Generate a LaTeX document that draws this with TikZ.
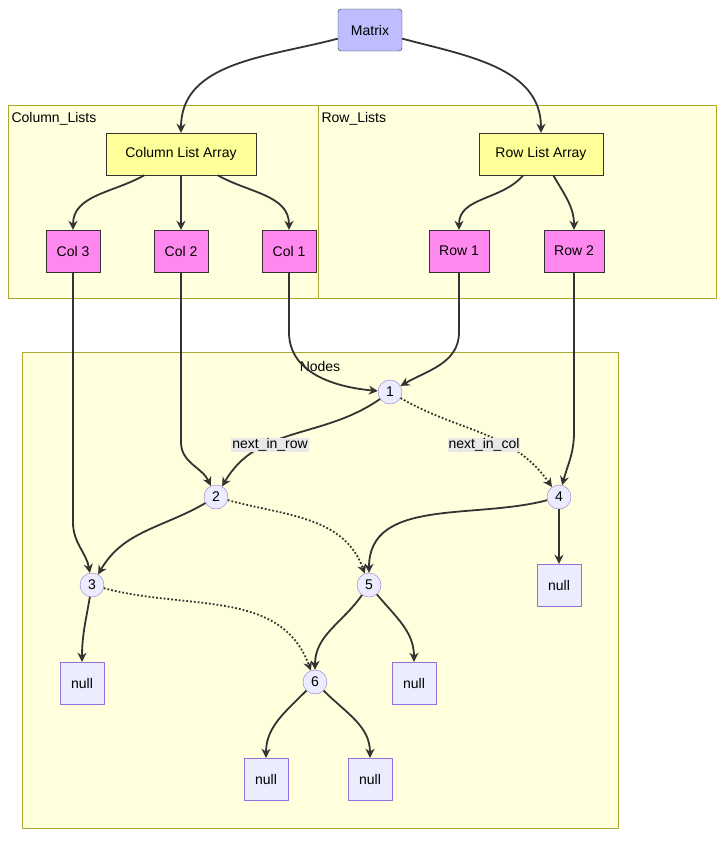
\documentclass[tikz,border=0pt]{standalone}
\usepackage{fontspec}
\setmainfont{Liberation Sans}
\usetikzlibrary{positioning, arrows.meta}
\definecolor{clusterfill}{HTML}{FFFFDE}
\definecolor{clusterline}{HTML}{AAAA33}
\definecolor{nodefill}{HTML}{ECECFF}
\definecolor{nodeline}{HTML}{9370DB}
\definecolor{edgecol}{HTML}{333333}
\tikzset{
  txt/.style={font=\fontsize{14}{16}\selectfont},
  box/.style={rectangle, draw=edgecol, minimum height=42pt, inner sep=0pt, txt},
  matrixbox/.style={box, fill={rgb,255:red,189;green,189;blue,255}, rounded corners=3pt, minimum width=64pt},
  arraybox/.style={box, fill={rgb,255:red,255;green,255;blue,153}},
  listbox/.style={box, fill={rgb,255:red,255;green,136;blue,238}, minimum width=54pt},
  cell/.style={circle, draw=nodeline, fill=nodefill, minimum size=24pt, inner sep=0pt, txt},
  nullbox/.style={rectangle, draw=nodeline, fill=nodefill, minimum width=44pt, minimum height=42pt, inner sep=0pt, txt},
  cluster/.style={draw=clusterline, fill=clusterfill},
  arr/.style={draw=edgecol, line width=1.8pt, -{Stealth[length=9pt,width=9pt]}},
  dotarr/.style={arr, dotted},
  elabel/.style={fill={rgb,255:red,232;green,232;blue,232}, inner sep=1pt, txt}
}
\begin{document}
\begin{tikzpicture}[x=1pt, y=-1pt]
  \useasboundingbox (0,0) rectangle (724,847);
  % clusters
  \draw[cluster] (8,105) rectangle (318,298);
  \draw[cluster] (318,105) rectangle (716,298);
  \draw[cluster] (22,352) rectangle (618,828);
  \node[anchor=west, txt] (collists) at (8,119) {Column\_Lists};
  \node[anchor=west, txt] (rowlists) at (318,119) {Row\_Lists};
  \node[txt] (nodes) at (320,366) {Nodes};
  % header nodes
  \node[matrixbox] (matrix) at (370,30) {Matrix};
  \node[arraybox, minimum width=150pt] (colarray) at (181,154) {Column List Array};
  \node[arraybox, minimum width=124pt] (rowarray) at (541,154) {Row List Array};
  \node[listbox] (col3) at (73,251) {Col 3};
  \node[listbox] (col2) at (181,251) {Col 2};
  \node[listbox] (col1) at (289,251) {Col 1};
  \node[listbox, minimum width=60pt] (row1) at (459,251) {Row 1};
  \node[listbox, minimum width=60pt] (row2) at (574,251) {Row 2};
  % cells
  \node[cell] (n1) at (390,392) {1};
  \node[cell] (n2) at (216,497) {2};
  \node[cell] (n3) at (92,585) {3};
  \node[cell] (n4) at (559,497) {4};
  \node[cell] (n5) at (369,585) {5};
  \node[cell] (n6) at (315,682) {6};
  \node[nullbox] (null4) at (559,585) {null};
  \node[nullbox] (null3) at (82,683) {null};
  \node[nullbox] (null5) at (414,683) {null};
  \node[nullbox] (null6a) at (266,779) {null};
  \node[nullbox] (null6b) at (370,779) {null};
  % edges
  \draw[arr] (matrix) to[out=195, in=90] (colarray);
  \draw[arr] (matrix) to[out=-15, in=90] (rowarray);
  \draw[arr] (colarray) to[out=210, in=90] (col3);
  \draw[arr] (colarray) -- (col2);
  \draw[arr] (colarray) to[out=-30, in=90] (col1);
  \draw[arr] (rowarray) to[out=230, in=90] (row1);
  \draw[arr] (rowarray) to[out=-60, in=90] (row2);
  \draw[arr] (col1.south) -- ++(0,60) to[out=-90, in=175] (n1);
  \draw[arr] (row1.south) -- ++(0,60) to[out=-90, in=30] (n1);
  \draw[arr] (col2.south) -- ++(0,170) to[out=-90, in=115] (n2);
  \draw[arr] (col3.south) -- ++(0,250) to[out=-90, in=100] (n3);
  \draw[arr] (row2.south) -- ++(0,160) to[out=-90, in=75] (n4);
  \draw[arr] (n1) to[out=215, in=60] (n2);
  \draw[dotarr] (n1) to[out=-30, in=125] (n4);
  \node[elabel] (rowlabel) at (270,445) {next\_in\_row};
  \node[elabel] (collabel) at (484,445) {next\_in\_col};
  \draw[arr] (n2) to[out=210, in=60] (n3);
  \draw[dotarr] (n2) to[out=-15, in=110] (n5);
  \draw[arr] (n3) to[out=-100, in=90] (null3);
  \draw[dotarr] (n3) to[out=-15, in=110] (n6);
  \draw[arr] (n4) to[out=195, in=90] (n5);
  \draw[arr] (n4) -- (null4);
  \draw[arr] (n5) to[out=235, in=90] (n6);
  \draw[arr] (n5) to[out=-50, in=90] (null5);
  \draw[arr] (n6) to[out=225, in=90] (null6a);
  \draw[arr] (n6) to[out=-45, in=90] (null6b);
\end{tikzpicture}
\end{document}
